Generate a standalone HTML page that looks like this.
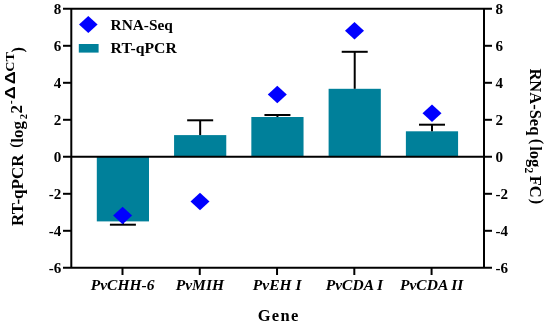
<!DOCTYPE html><html><head><meta charset="utf-8"><style>html,body{margin:0;padding:0;background:#fff;}svg{display:block;}text{font-family:"Liberation Serif",serif;font-weight:bold;fill:#000;}</style></head><body>
<svg width="550" height="328" viewBox="0 0 550 328">
<rect width="550" height="328" fill="#fff"/>
<rect x="96.80" y="156.80" width="52.2" height="64.60" fill="#00809A"/>
<rect x="174.07" y="135.10" width="52.2" height="21.70" fill="#00809A"/>
<rect x="251.34" y="117.00" width="52.2" height="39.80" fill="#00809A"/>
<rect x="328.61" y="88.80" width="52.2" height="68.00" fill="#00809A"/>
<rect x="405.88" y="131.30" width="52.2" height="25.50" fill="#00809A"/>
<line x1="122.90" y1="221.40" x2="122.90" y2="224.70" stroke="#000" stroke-width="2"/>
<line x1="109.90" y1="224.70" x2="135.90" y2="224.70" stroke="#000" stroke-width="2"/>
<line x1="200.17" y1="135.10" x2="200.17" y2="120.30" stroke="#000" stroke-width="2"/>
<line x1="187.17" y1="120.30" x2="213.17" y2="120.30" stroke="#000" stroke-width="2"/>
<line x1="277.44" y1="117.00" x2="277.44" y2="115.00" stroke="#000" stroke-width="2"/>
<line x1="264.44" y1="115.00" x2="290.44" y2="115.00" stroke="#000" stroke-width="2"/>
<line x1="354.71" y1="88.80" x2="354.71" y2="51.80" stroke="#000" stroke-width="2"/>
<line x1="341.71" y1="51.80" x2="367.71" y2="51.80" stroke="#000" stroke-width="2"/>
<line x1="431.98" y1="131.30" x2="431.98" y2="124.70" stroke="#000" stroke-width="2"/>
<line x1="418.98" y1="124.70" x2="444.98" y2="124.70" stroke="#000" stroke-width="2"/>
<g stroke="#000" stroke-width="2" fill="none"><line x1="71.3" y1="8.80" x2="71.3" y2="267.80" /><line x1="484" y1="8.80" x2="484" y2="267.80" /><line x1="63" y1="8.80" x2="492" y2="8.80" /><line x1="63" y1="267.80" x2="492" y2="267.80" /><line x1="63" y1="156.80" x2="492" y2="156.80" /><line x1="63" y1="45.80" x2="71.3" y2="45.80" /><line x1="484" y1="45.80" x2="492" y2="45.80" /><line x1="63" y1="82.80" x2="71.3" y2="82.80" /><line x1="484" y1="82.80" x2="492" y2="82.80" /><line x1="63" y1="119.80" x2="71.3" y2="119.80" /><line x1="484" y1="119.80" x2="492" y2="119.80" /><line x1="63" y1="193.80" x2="71.3" y2="193.80" /><line x1="484" y1="193.80" x2="492" y2="193.80" /><line x1="63" y1="230.80" x2="71.3" y2="230.80" /><line x1="484" y1="230.80" x2="492" y2="230.80" /><line x1="122.50" y1="267.80" x2="122.50" y2="275" /><line x1="199.77" y1="267.80" x2="199.77" y2="275" /><line x1="277.04" y1="267.80" x2="277.04" y2="275" /><line x1="354.31" y1="267.80" x2="354.31" y2="275" /><line x1="431.58" y1="267.80" x2="431.58" y2="275" /></g>
<polygon points="122.60,206.75 132.10,215.50 122.60,224.25 113.10,215.50" fill="#0000FF"/>
<polygon points="200.00,192.75 209.50,201.50 200.00,210.25 190.50,201.50" fill="#0000FF"/>
<polygon points="277.30,85.75 286.80,94.50 277.30,103.25 267.80,94.50" fill="#0000FF"/>
<polygon points="354.50,21.95 364.00,30.70 354.50,39.45 345.00,30.70" fill="#0000FF"/>
<polygon points="432.00,104.45 441.50,113.20 432.00,121.95 422.50,113.20" fill="#0000FF"/>
<text transform="translate(61.4,14.20) scale(1.07,1)" font-size="14.1" text-anchor="end">8</text>
<text transform="translate(495.6,14.20) scale(1.07,1)" font-size="14.1">8</text>
<text transform="translate(61.4,51.20) scale(1.07,1)" font-size="14.1" text-anchor="end">6</text>
<text transform="translate(495.6,51.20) scale(1.07,1)" font-size="14.1">6</text>
<text transform="translate(61.4,88.20) scale(1.07,1)" font-size="14.1" text-anchor="end">4</text>
<text transform="translate(495.6,88.20) scale(1.07,1)" font-size="14.1">4</text>
<text transform="translate(61.4,125.20) scale(1.07,1)" font-size="14.1" text-anchor="end">2</text>
<text transform="translate(495.6,125.20) scale(1.07,1)" font-size="14.1">2</text>
<text transform="translate(61.4,162.20) scale(1.07,1)" font-size="14.1" text-anchor="end">0</text>
<text transform="translate(495.6,162.20) scale(1.07,1)" font-size="14.1">0</text>
<text transform="translate(61.4,199.20) scale(1.07,1)" font-size="14.1" text-anchor="end">-2</text>
<text transform="translate(495.6,199.20) scale(1.07,1)" font-size="14.1">-2</text>
<text transform="translate(61.4,236.20) scale(1.07,1)" font-size="14.1" text-anchor="end">-4</text>
<text transform="translate(495.6,236.20) scale(1.07,1)" font-size="14.1">-4</text>
<text transform="translate(61.4,273.20) scale(1.07,1)" font-size="14.1" text-anchor="end">-6</text>
<text transform="translate(495.6,273.20) scale(1.07,1)" font-size="14.1">-6</text>
<text x="122.60" y="290.4" font-size="15.5" font-style="italic" text-anchor="middle">PvCHH-6</text>
<text x="199.87" y="290.4" font-size="15.5" font-style="italic" text-anchor="middle">PvMIH</text>
<text x="277.14" y="290.4" font-size="15.5" font-style="italic" text-anchor="middle">PvEH I</text>
<text x="354.41" y="290.4" font-size="15.5" font-style="italic" text-anchor="middle">PvCDA I</text>
<text x="431.68" y="290.4" font-size="15.5" font-style="italic" text-anchor="middle">PvCDA II</text>
<text x="278.6" y="321" font-size="16.5" text-anchor="middle" letter-spacing="1.3">Gene</text>
<polygon points="88.30,16.00 97.60,24.50 88.30,33.00 79.00,24.50" fill="#0000FF"/>
<rect x="78.8" y="44" width="19.8" height="8.6" fill="#00809A"/>
<text transform="translate(110.6,29.8) scale(1.025,1)" font-size="15">RNA-Seq</text>
<text transform="translate(110.6,52.9) scale(1.05,1)" font-size="15">RT-qPCR</text>
<g transform="translate(22.9,226) rotate(-90)"><text x="0" y="0" font-size="17">RT-qPCR</text><text x="78.3" y="-3.2" font-size="14.7">(</text><text x="83.2" y="0" font-size="17">log</text><text x="106.8" y="4.3" font-size="10.5">2</text><text x="112.4" y="-1.1" font-size="17">2</text><text x="121.8" y="-8.2" font-size="12">-</text><text transform="translate(126.8,-8.0) scale(1.27,1)" font-size="14.3" font-weight="normal" style="font-family:Liberation Sans,sans-serif">Δ</text><text transform="translate(141.7,-8.0) scale(1.27,1)" font-size="14.3" font-weight="normal" style="font-family:Liberation Sans,sans-serif">Δ</text><text transform="translate(154.3,-9.3) scale(1.19,1)" font-size="11.8">CT</text><text x="173.6" y="0" font-size="16.6">)</text></g>
<g transform="translate(530,68.7) rotate(90)"><text x="-0.3" y="0" font-size="16.5">RNA-Seq</text><text x="70.1" y="-1.65" font-size="16.2">(</text><text x="77.5" y="0" font-size="16.5">log</text><text x="98.9" y="4.6" font-size="11.5">2</text><text x="107.1" y="0" font-size="16.5">FC</text><text x="130.1" y="-1.65" font-size="16.2">)</text></g>
</svg></body></html>
